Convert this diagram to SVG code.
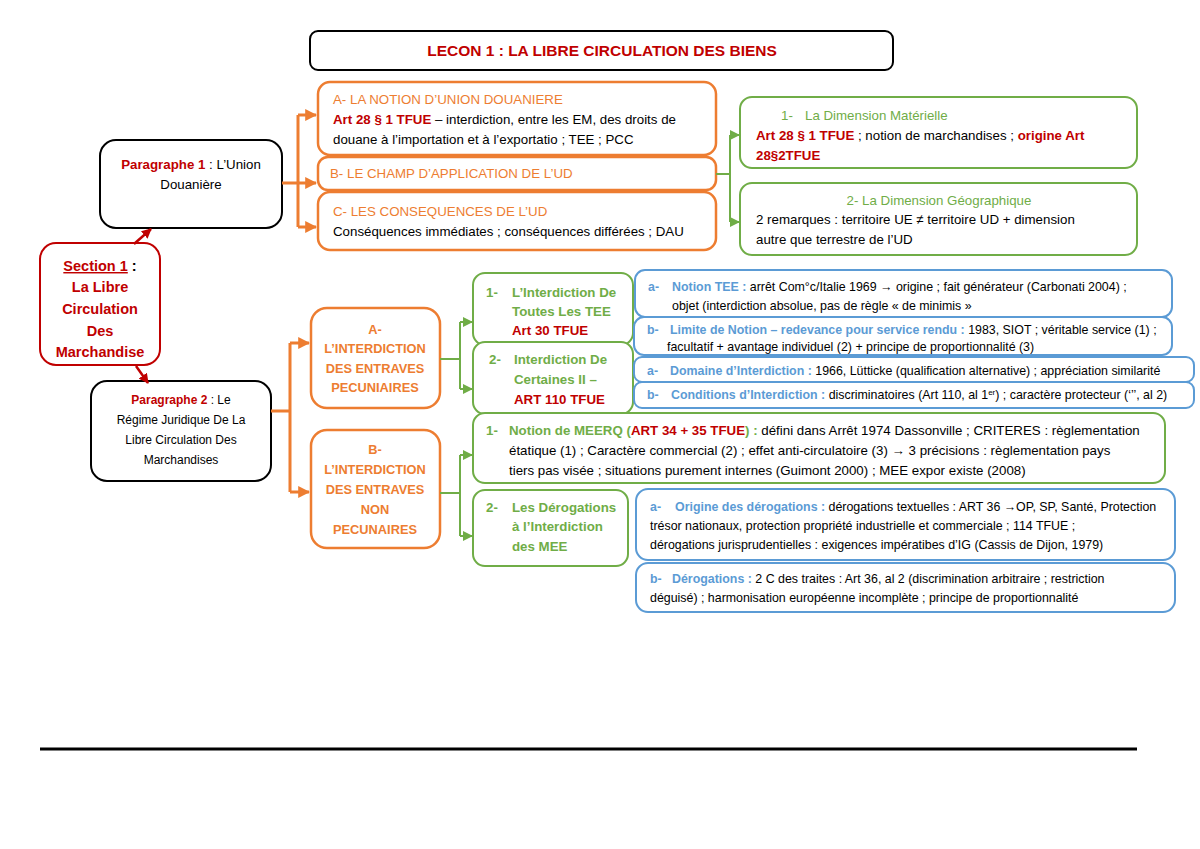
<svg xmlns="http://www.w3.org/2000/svg" width="1200" height="849" viewBox="0 0 1200 849">
<defs>
<style>
text{font-family:"Liberation Sans",Arial,sans-serif;font-size:13.3px;fill:#000}
.t{font-size:15.5px;font-weight:bold;fill:#C00000}
.r{fill:#C00000;font-weight:bold}
.o{fill:#ED7D31}
.ob{fill:#ED7D31;font-weight:bold;font-size:12.8px}
.g{fill:#70AD47}
.gb{fill:#70AD47;font-weight:bold}
.b{fill:#5B9BD5;font-weight:bold}
.s{font-size:12.4px}
.p{font-size:12px}
.sec{font-size:14.5px}
.m{text-anchor:middle}
.bk{fill:#fff;stroke:#000;stroke-width:2}
.rd{fill:#fff;stroke:#C00000;stroke-width:2}
.or{fill:#fff;stroke:#ED7D31;stroke-width:2.5}
.gr{fill:#fff;stroke:#70AD47;stroke-width:2}
.bl{fill:#fff;stroke:#5B9BD5;stroke-width:2}
.co{fill:none;stroke:#ED7D31;stroke-width:3}
.cg{fill:none;stroke:#70AD47;stroke-width:2}
.cr{fill:none;stroke:#C00000;stroke-width:2.5}
</style>
<marker id="ao" viewBox="0 0 10 10" refX="9" refY="5" markerWidth="4" markerHeight="4" orient="auto" markerUnits="strokeWidth"><path d="M0,0L10,5L0,10z" fill="#ED7D31"/></marker>
<marker id="ag" viewBox="0 0 10 10" refX="9" refY="5" markerWidth="5" markerHeight="5" orient="auto" markerUnits="strokeWidth"><path d="M0,0L10,5L0,10z" fill="#70AD47"/></marker>
<marker id="ar" viewBox="0 0 10 10" refX="9" refY="5" markerWidth="4" markerHeight="4" orient="auto" markerUnits="strokeWidth"><path d="M0,0L10,5L0,10z" fill="#C00000"/></marker>
</defs>
<rect width="1200" height="849" fill="#fff"/>

<g id="title">
<rect x="310" y="31" width="583" height="39" rx="8" class="bk"/>
<text x="602" y="56" class="t m">LECON 1 : LA LIBRE CIRCULATION DES BIENS</text>
</g>

<g id="paragraphe1">
<rect x="100" y="140" width="182" height="88" rx="16" class="bk"/>
<text x="191" y="169" class="m"><tspan class="r">Paragraphe 1</tspan> : L’Union</text>
<text x="191" y="189" class="m">Douanière</text>
</g>

<g id="section1">
<rect x="40" y="243" width="120" height="122" rx="16" class="rd"/>
<text x="100" y="271" class="m sec"><tspan class="r" text-decoration="underline">Section 1</tspan><tspan font-weight="bold"> :</tspan></text>
<text x="100" y="292" class="m r sec">La Libre</text>
<text x="100" y="314" class="m r sec">Circulation</text>
<text x="100" y="336" class="m r sec">Des</text>
<text x="100" y="357" class="m r sec">Marchandise</text>
</g>

<g id="paragraphe2">
<rect x="91" y="381" width="180" height="100" rx="16" class="bk"/>
<text x="181" y="404" class="m p"><tspan class="r">Paragraphe 2</tspan> : Le</text>
<text x="181" y="424" class="m p">Régime Juridique De La</text>
<text x="181" y="444" class="m p">Libre Circulation Des</text>
<text x="181" y="464" class="m p">Marchandises</text>
</g>

<g id="ud-a">
<rect x="318" y="82" width="398" height="73" rx="12" class="or"/>
<text x="333" y="104" class="o">A- LA NOTION D’UNION DOUANIERE</text>
<text x="333" y="124"><tspan class="r">Art 28 § 1 TFUE</tspan> – interdiction, entre les EM, des droits de</text>
<text x="333" y="144">douane à l’importation et à l’exportatio ; TEE ; PCC</text>
</g>

<g id="ud-b">
<rect x="318" y="157" width="398" height="33" rx="10" class="or"/>
<text x="330" y="178" class="o">B- LE CHAMP D’APPLICATION DE L’UD</text>
</g>

<g id="ud-c">
<rect x="318" y="192" width="398" height="58" rx="12" class="or"/>
<text x="333" y="216" class="o">C- LES CONSEQUENCES DE L’UD</text>
<text x="333" y="236">Conséquences immédiates ; conséquences différées ; DAU</text>
</g>

<g id="dim-materielle">
<rect x="740" y="97" width="397" height="71" rx="12" class="gr"/>
<text x="781" y="120" class="g">1-</text>
<text x="805" y="120" class="g">La Dimension Matérielle</text>
<text x="756" y="140"><tspan class="r">Art 28 § 1 TFUE</tspan> ; notion de marchandises ; <tspan class="r">origine Art</tspan></text>
<text x="756" y="160" class="r">28§2TFUE</text>
</g>

<g id="dim-geo">
<rect x="740" y="183" width="397" height="72" rx="12" class="gr"/>
<text x="939" y="205" class="g m">2- La Dimension Géographique</text>
<text x="756" y="224">2 remarques : territoire UE ≠ territoire UD + dimension</text>
<text x="756" y="244">autre que terrestre de l’UD</text>
</g>

<g id="entraves-pecuniaires">
<rect x="311" y="308" width="129" height="100" rx="16" class="or"/>
<text x="375" y="334" class="ob m">A-</text>
<text x="375" y="353" class="ob m">L’INTERDICTION</text>
<text x="375" y="373" class="ob m">DES ENTRAVES</text>
<text x="375" y="392" class="ob m">PECUNIAIRES</text>
</g>

<g id="entraves-non-pecuniaires">
<rect x="311" y="430" width="129" height="118" rx="16" class="or"/>
<text x="375" y="454" class="ob m">B-</text>
<text x="375" y="474" class="ob m">L’INTERDICTION</text>
<text x="375" y="494" class="ob m">DES ENTRAVES</text>
<text x="375" y="514" class="ob m">NON</text>
<text x="375" y="534" class="ob m">PECUNAIRES</text>
</g>

<g id="interdiction-tee">
<rect x="473" y="273" width="160" height="72" rx="12" class="gr"/>
<text x="486" y="297" class="gb">1-</text>
<text x="512" y="297" class="gb">L’Interdiction De</text>
<text x="512" y="316" class="gb">Toutes Les TEE</text>
<text x="512" y="335" class="r">Art 30 TFUE</text>
</g>

<g id="interdiction-110">
<rect x="473" y="342" width="160" height="72" rx="12" class="gr"/>
<text x="489" y="364" class="gb">2-</text>
<text x="514" y="364" class="gb">Interdiction De</text>
<text x="514" y="384" class="gb">Certaines II –</text>
<text x="514" y="404" class="r">ART 110 TFUE</text>
</g>

<g id="notion-tee">
<rect x="635" y="270" width="537" height="47" rx="10" class="bl"/>
<text x="648" y="291" class="s"><tspan class="b">a-</tspan></text>
<text x="672" y="291" class="s"><tspan class="b">Notion TEE :</tspan> arrêt Com°c/Italie 1969 → origine ; fait générateur (Carbonati 2004) ;</text>
<text x="672" y="310" class="s">objet (interdiction absolue, pas de règle « de minimis »</text>
</g>

<g id="limite-notion">
<rect x="634" y="317" width="538" height="38" rx="10" class="bl"/>
<text x="647" y="334" class="s"><tspan class="b">b-</tspan></text>
<text x="670" y="334" class="s"><tspan class="b">Limite de Notion – redevance pour service rendu :</tspan> 1983, SIOT ; véritable service (1) ;</text>
<text x="667" y="351" class="s">facultatif + avantage individuel (2) + principe de proportionnalité (3)</text>
</g>

<g id="domaine-interdiction">
<rect x="634" y="357" width="560" height="25" rx="8" class="bl"/>
<text x="647" y="375" class="s"><tspan class="b">a-</tspan></text>
<text x="670" y="375" class="s"><tspan class="b">Domaine d’Interdiction :</tspan> 1966, Lütticke (qualification alternative) ; appréciation similarité</text>
</g>

<g id="conditions-interdiction">
<rect x="634" y="382" width="560" height="26" rx="8" class="bl"/>
<text x="647" y="399" class="s"><tspan class="b">b-</tspan></text>
<text x="671" y="399" class="s"><tspan class="b">Conditions d’Interdiction :</tspan> discriminatoires (Art 110, al 1<tspan font-size="8" dy="-4">er</tspan><tspan dy="4">) ; caractère protecteur (‘’’, al 2)</tspan></text>
</g>

<g id="meerq">
<rect x="473" y="413" width="692" height="70" rx="12" class="gr"/>
<text x="486" y="435" class="gb">1-</text>
<text x="509" y="435"><tspan class="gb">Notion de MEERQ (</tspan><tspan class="r">ART 34 + 35 TFUE</tspan><tspan class="gb">) :</tspan> défini dans Arrêt 1974 Dassonville ; CRITERES : règlementation</text>
<text x="509" y="455">étatique (1) ; Caractère commercial (2) ; effet anti-circulatoire (3) → 3 précisions : règlementation pays</text>
<text x="509" y="475">tiers pas visée ; situations purement internes (Guimont 2000) ; MEE expor existe (2008)</text>
</g>

<g id="derogations">
<rect x="473" y="490" width="155" height="76" rx="12" class="gr"/>
<text x="486" y="512" class="gb">2-</text>
<text x="512" y="512" class="gb">Les Dérogations</text>
<text x="512" y="531" class="gb">à l’Interdiction</text>
<text x="512" y="551" class="gb">des MEE</text>
</g>

<g id="origine-derogations">
<rect x="636" y="489" width="539" height="71" rx="12" class="bl"/>
<text x="650" y="511" class="s"><tspan class="b">a-</tspan></text>
<text x="675" y="511" class="s"><tspan class="b">Origine des dérogations :</tspan> dérogations textuelles : ART 36 →OP, SP, Santé, Protection</text>
<text x="650" y="530" class="s">trésor nationaux, protection propriété industrielle et commerciale ; 114 TFUE ;</text>
<text x="650" y="549" class="s">dérogations jurisprudentielles : exigences impératibes d’IG  (Cassis de Dijon, 1979)</text>
</g>

<g id="derogations-b">
<rect x="636" y="563" width="539" height="49" rx="12" class="bl"/>
<text x="650" y="583" class="s"><tspan class="b">b-</tspan></text>
<text x="672" y="583" class="s"><tspan class="b">Dérogations :</tspan> 2 C des traites : Art 36, al 2 (discrimination arbitraire ; restriction</text>
<text x="650" y="602" class="s">déguisé) ; harmonisation européenne incomplète ; principe de proportionnalité</text>
</g>

<g id="connectors">
<path class="cr" d="M134,244 L151,229" marker-end="url(#ar)"/>
<path class="cr" d="M136,366 L148,383" marker-end="url(#ar)"/>
<path class="co" d="M282,183 H298"/>
<path class="co" d="M298,115 V227"/>
<path class="co" d="M298,115 H316" marker-end="url(#ao)"/>
<path class="co" d="M298,183 H316" marker-end="url(#ao)"/>
<path class="co" d="M298,227 H316" marker-end="url(#ao)"/>
<path class="cg" d="M716,174 H730 M730,135 V222"/>
<path class="cg" d="M730,135 H739" marker-end="url(#ag)"/>
<path class="cg" d="M730,222 H739" marker-end="url(#ag)"/>
<path class="co" d="M271,411 H290 M290,343 V492"/>
<path class="co" d="M290,343 H309" marker-end="url(#ao)"/>
<path class="co" d="M290,492 H309" marker-end="url(#ao)"/>
<path class="cg" d="M440,359 H460 M460,322 V389"/>
<path class="cg" d="M460,322 H472" marker-end="url(#ag)"/>
<path class="cg" d="M460,389 H472" marker-end="url(#ag)"/>
<path class="cg" d="M440,493 H460 M460,455 V536"/>
<path class="cg" d="M460,455 H472" marker-end="url(#ag)"/>
<path class="cg" d="M460,536 H472" marker-end="url(#ag)"/>
</g>

<line x1="40" y1="749" x2="1137" y2="749" stroke="#000" stroke-width="3"/>
</svg>
